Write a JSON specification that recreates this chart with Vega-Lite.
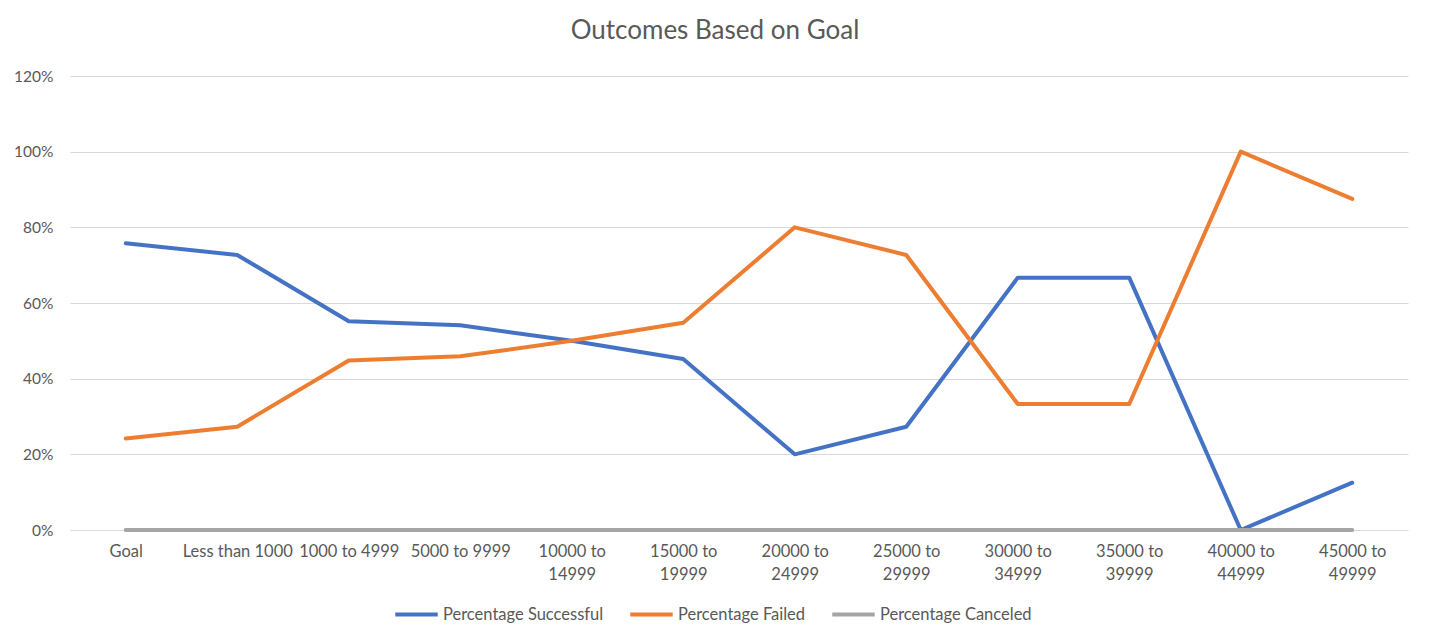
{
  "$schema": "https://vega.github.io/schema/vega-lite/v6.json",
  "autosize": {"type": "none"},
  "padding": {"left": 70, "top": 76, "right": 22, "bottom": 114},
  "width": 1338,
  "height": 454,
  "background": "white",
  "title": {
    "text": "Outcomes Based on Goal",
    "font": "Lato",
    "fontSize": 26,
    "fontWeight": "normal",
    "color": "#595959",
    "anchor": "middle",
    "baseline": "middle",
    "offset": 12,
    "dx": -24
  },
  "data": {
    "values": [
      {"goal": "Goal", "series": "Percentage Successful", "value": 0.758},
      {"goal": "Less than 1000", "series": "Percentage Successful", "value": 0.727},
      {"goal": "1000 to 4999", "series": "Percentage Successful", "value": 0.552},
      {"goal": "5000 to 9999", "series": "Percentage Successful", "value": 0.541},
      {"goal": "10000 to 14999", "series": "Percentage Successful", "value": 0.5},
      {"goal": "15000 to 19999", "series": "Percentage Successful", "value": 0.452},
      {"goal": "20000 to 24999", "series": "Percentage Successful", "value": 0.2},
      {"goal": "25000 to 29999", "series": "Percentage Successful", "value": 0.273},
      {"goal": "30000 to 34999", "series": "Percentage Successful", "value": 0.667},
      {"goal": "35000 to 39999", "series": "Percentage Successful", "value": 0.667},
      {"goal": "40000 to 44999", "series": "Percentage Successful", "value": 0},
      {"goal": "45000 to 49999", "series": "Percentage Successful", "value": 0.125},
      {"goal": "Goal", "series": "Percentage Failed", "value": 0.242},
      {"goal": "Less than 1000", "series": "Percentage Failed", "value": 0.273},
      {"goal": "1000 to 4999", "series": "Percentage Failed", "value": 0.448},
      {"goal": "5000 to 9999", "series": "Percentage Failed", "value": 0.459},
      {"goal": "10000 to 14999", "series": "Percentage Failed", "value": 0.5},
      {"goal": "15000 to 19999", "series": "Percentage Failed", "value": 0.548},
      {"goal": "20000 to 24999", "series": "Percentage Failed", "value": 0.8},
      {"goal": "25000 to 29999", "series": "Percentage Failed", "value": 0.727},
      {"goal": "30000 to 34999", "series": "Percentage Failed", "value": 0.333},
      {"goal": "35000 to 39999", "series": "Percentage Failed", "value": 0.333},
      {"goal": "40000 to 44999", "series": "Percentage Failed", "value": 1.0},
      {"goal": "45000 to 49999", "series": "Percentage Failed", "value": 0.875},
      {"goal": "Goal", "series": "Percentage Canceled", "value": 0},
      {"goal": "Less than 1000", "series": "Percentage Canceled", "value": 0},
      {"goal": "1000 to 4999", "series": "Percentage Canceled", "value": 0},
      {"goal": "5000 to 9999", "series": "Percentage Canceled", "value": 0},
      {"goal": "10000 to 14999", "series": "Percentage Canceled", "value": 0},
      {"goal": "15000 to 19999", "series": "Percentage Canceled", "value": 0},
      {"goal": "20000 to 24999", "series": "Percentage Canceled", "value": 0},
      {"goal": "25000 to 29999", "series": "Percentage Canceled", "value": 0},
      {"goal": "30000 to 34999", "series": "Percentage Canceled", "value": 0},
      {"goal": "35000 to 39999", "series": "Percentage Canceled", "value": 0},
      {"goal": "40000 to 44999", "series": "Percentage Canceled", "value": 0},
      {"goal": "45000 to 49999", "series": "Percentage Canceled", "value": 0}
    ]
  },
  "mark": {"type": "line", "strokeWidth": 4, "strokeCap": "round", "strokeJoin": "round"},
  "encoding": {
    "x": {
      "field": "goal",
      "type": "ordinal",
      "sort": null,
      "axis": {
        "title": null,
        "labelAngle": 0,
        "ticks": false,
        "domain": false,
        "labelPadding": 13,
        "labelLineHeight": 23,
        "labelFontSize": 16.5,
        "labelExpr": "test(/^[0-9]{5} to/, datum.label) ? [slice(datum.label, 0, 8), slice(datum.label, 9)] : datum.label"
      }
    },
    "y": {
      "field": "value",
      "type": "quantitative",
      "scale": {"domain": [0, 1.2], "nice": false},
      "axis": {
        "title": null,
        "values": [0, 0.2, 0.4, 0.6, 0.8, 1.0, 1.2],
        "format": ".0%",
        "ticks": false,
        "domain": false,
        "labelPadding": 17,
        "labelFontSize": 15.5,
        "grid": true
      }
    },
    "color": {
      "field": "series",
      "type": "nominal",
      "sort": ["Percentage Successful", "Percentage Failed", "Percentage Canceled"],
      "scale": {
        "domain": ["Percentage Successful", "Percentage Failed", "Percentage Canceled"],
        "range": ["#4472C4", "#ED7D31", "#A5A5A5"]
      },
      "legend": {
        "title": null,
        "orient": "none",
        "legendX": 323,
        "legendY": 515,
        "direction": "horizontal",
        "symbolType": "stroke",
        "symbolSize": 1800,
        "symbolStrokeWidth": 4,
        "columnPadding": 18,
        "labelOffset": 3,
        "labelLimit": 400
      }
    },
    "order": {"field": "series"}
  },
  "config": {
    "view": {"stroke": null},
    "font": "Lato",
    "axis": {
      "labelFont": "Lato",
      "labelColor": "#595959",
      "gridColor": "#d9d9d9",
      "gridWidth": 1
    },
    "legend": {
      "labelFont": "Lato",
      "labelFontSize": 16.5,
      "labelColor": "#595959"
    }
  }
}
